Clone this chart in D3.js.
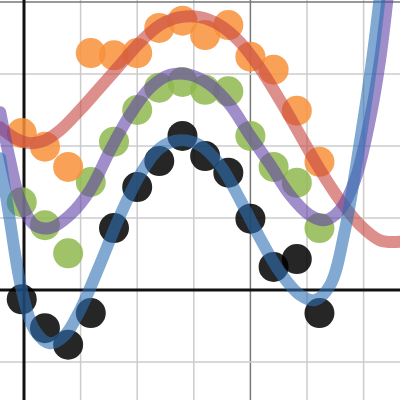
<!DOCTYPE html><html><head><script src="https://cdn.jsdelivr.net/npm/d3@7"></script>
<style>body{margin:0;background:#fff}</style></head><body><svg id="c" width="400" height="400"></svg><script>
const px=[-0.04,0.37,0.78,1.18,1.59,2.0,2.39,2.8,3.2,3.61,4.0,4.41,4.82,5.22];
const blackY=[-0.13,-0.53,-0.76,-0.32,0.86,1.43,1.79,2.14,1.86,1.63,0.99,0.32,0.43,-0.32];
const greenY=[1.22,0.90,0.51,1.50,2.06,2.50,2.81,2.89,2.78,2.76,2.14,1.71,1.49,0.86];
const orangeY=[2.18,1.99,1.71,3.29,3.26,3.29,3.64,3.74,3.54,3.68,3.24,3.06,2.49,1.78];
const blueCurve=[[-0.42,1.83],[-0.25,0.97],[-0.04,0],[0.19,-0.56],[0.46,-0.74],[0.72,-0.63],[0.99,-0.28],[1.34,0.35],[1.70,1.04],[2.05,1.60],[2.40,1.97],[2.76,2.08],[3.11,2.01],[3.46,1.74],[3.82,1.25],[4.17,0.72],[4.52,0.25],[4.88,-0.07],[5.14,-0.14],[5.41,0.07],[5.67,0.83],[5.94,2.08],[6.15,3.19],[6.29,4.1]];
const purpleCurve=[[-0.42,2.47],[-0.25,1.81],[-0.07,1.25],[0.19,0.90],[0.46,0.86],[0.81,1.04],[1.17,1.39],[1.52,1.94],[1.87,2.43],[2.23,2.81],[2.58,2.99],[2.93,2.99],[3.29,2.85],[3.64,2.57],[3.99,2.15],[4.35,1.74],[4.70,1.32],[5.05,1.04],[5.32,0.97],[5.58,1.11],[5.85,1.53],[6.11,2.36],[6.29,3.19],[6.43,4.1]];
const redCurve=[[-0.42,2.26],[-0.16,2.11],[0.11,2.04],[0.37,2.08],[0.64,2.22],[0.99,2.50],[1.34,2.81],[1.70,3.13],[2.05,3.44],[2.40,3.68],[2.76,3.79],[3.11,3.79],[3.46,3.68],[3.82,3.44],[4.17,3.08],[4.52,2.64],[4.88,2.15],[5.23,1.67],[5.58,1.25],[5.94,0.90],[6.29,0.69],[6.64,0.67]];
const xTicks=[-0.5,0,0.5,1,1.5,2,2.5,3,3.5,4,4.5,5,5.5,6,6.5];
const yTicks=[-1.5,-1,-0.5,0,0.5,1,1.5,2,2.5,3,3.5,4];
const svg=d3.select("#c");
const x=d3.scaleLinear().domain([-24/56.6,376/56.6]).range([0,400]);
const y=d3.scaleLinear().domain([-110/72,290/72]).range([400,0]);
const gx=[-0.25,0,0.25,0.5,0.75,1,1.25,1.5,1.75,2,2.25,2.5,2.75,3,3.25,3.5,3.75,4].map(v=>v*4/4);
// grid: minor every 1 unit x, 1 unit y; major every 4
d3.range(-1,8).forEach(i=>svg.append("line").attr("x1",x(i)).attr("x2",x(i)).attr("y1",0).attr("y2",400).attr("stroke",i%4===0?"#777":"#ccc").attr("stroke-width",i%4===0?1.5:1.5));
d3.range(-2,5).forEach(i=>svg.append("line").attr("y1",y(i)).attr("y2",y(i)).attr("x1",0).attr("x2",400).attr("stroke",i%4===0?"#777":"#ccc").attr("stroke-width",1.5));
svg.append("line").attr("x1",x(0)).attr("x2",x(0)).attr("y1",0).attr("y2",400).attr("stroke","#111").attr("stroke-width",3);
svg.append("line").attr("y1",y(0)).attr("y2",y(0)).attr("x1",0).attr("x2",400).attr("stroke","#111").attr("stroke-width",3);
function dots(ys,col){svg.append("g").selectAll("circle").data(ys).join("circle").attr("cx",(d,i)=>x(px[i])).attr("cy",d=>y(d)).attr("r",15).attr("fill",col).attr("opacity",0.85);}
dots(blackY,"#000");dots(greenY,"#8fb84f");dots(orangeY,"#f7913a");
const line=d3.line().x(d=>x(d[0])).y(d=>y(d[1])).curve(d3.curveCatmullRom);
[[redCurve,"#c74440"],[purpleCurve,"#6042a6"],[blueCurve,"#2d70b3"]].forEach(([c,col])=>svg.append("path").attr("d",line(c)).attr("fill","none").attr("stroke",col).attr("stroke-width",12).attr("stroke-opacity",0.6).attr("stroke-linecap","round"));
</script></body></html>
